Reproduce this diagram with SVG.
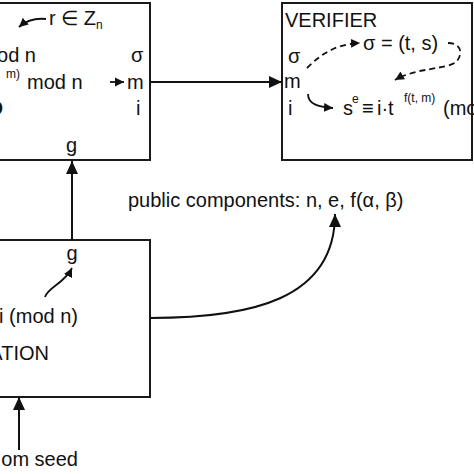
<svg xmlns="http://www.w3.org/2000/svg" width="474" height="474" viewBox="0 0 474 474">
<defs>
<style>
.box{fill:#fff;stroke:#1a1a1a;stroke-width:2}
.t{font-family:"Liberation Sans",Arial,sans-serif;font-size:20px;fill:#111}
.sup{font-size:12px}
.ln{fill:none;stroke:#111;stroke-width:2}
.thin{fill:none;stroke:#111;stroke-width:1.8}
.dash{fill:none;stroke:#111;stroke-width:1.8;stroke-dasharray:6 4}
</style>
<marker id="big" markerUnits="userSpaceOnUse" markerWidth="14" markerHeight="12" refX="13" refY="6" orient="auto"><path d="M0,0 L13,6 L0,12 Z" fill="#111"/></marker>
<marker id="sm" markerUnits="userSpaceOnUse" markerWidth="10" markerHeight="10" refX="9" refY="5" orient="auto"><path d="M0,0.5 L9,5 L0,9.5 Z" fill="#111"/></marker>
</defs>
<g id="signer">
<rect class="box" x="-10" y="3" width="160" height="157"/>
<text class="t" x="49" y="25">r ∈ Z<tspan class="sup" dy="4">n</tspan></text>
<text class="t" x="36" y="62" text-anchor="end">od n</text>
<text class="t" x="131" y="62">σ</text>
<text class="t sup" x="20" y="78" text-anchor="end">m)</text>
<text class="t" x="27" y="89">mod n</text>
<text class="t" x="127" y="89">m</text>
<text class="t" x="136" y="115">i</text>
<text class="t" x="3" y="115" text-anchor="end" font-weight="bold">O</text>
<text class="t" x="71.5" y="152" text-anchor="middle">g</text>
</g>
<g id="verifier">
<rect class="box" x="282" y="3" width="190" height="157"/>
<text class="t" x="285" y="27" font-size="17">VERIFIER</text>
<text class="t" x="288" y="63">σ</text>
<text class="t" x="284" y="88">m</text>
<text class="t" x="288" y="115">i</text>
<text class="t" x="363" y="50">σ = (t, s)</text>
<text class="t" x="343" y="115">s</text>
<text class="t sup" x="352" y="103">e</text>
<text class="t" x="362" y="115">≡</text>
<text class="t" x="377" y="115" font-size="21">i·t</text>
<text class="t sup" x="404" y="102">f(t, m)</text>
<text class="t" x="443" y="115">(mod n)</text>
</g>
<g id="keygen">
<rect class="box" x="-10" y="240" width="160" height="157"/>
<text class="t" x="72" y="260" text-anchor="middle">g</text>
<text class="t" x="78" y="323" text-anchor="end">i (mod n)</text>
<text class="t" x="49" y="360" text-anchor="end" font-size="16.5">ATION</text>
</g>
<g id="labels">
<text class="t" x="128" y="207" font-size="21.4">public components: n, e, f(α, β)</text>
<text class="t" x="78" y="466" text-anchor="end">om seed</text>
</g>
<g id="connectors">
<line class="ln" x1="150" y1="82" x2="282" y2="82" marker-end="url(#big)"/>
<line class="ln" x1="72" y1="240" x2="72" y2="161" marker-end="url(#big)"/>
<line class="ln" x1="19" y1="450" x2="19" y2="397" marker-end="url(#big)"/>
<path class="ln" d="M150,318 C250,318 335,300 335,214" marker-end="url(#big)"/>
<line class="thin" x1="110" y1="82" x2="124" y2="82" marker-end="url(#sm)"/>
<path class="thin" d="M46,19 C36,18 27,20 19,27" marker-end="url(#sm)"/>
<path class="thin" d="M45,297 C48,287 64,284 72,268" marker-end="url(#sm)"/>
<path class="thin" d="M308,94 C308,104 318,107 333,108" marker-end="url(#sm)"/>
<path class="dash" d="M307,68 C320,55 335,44 360,43" marker-end="url(#sm)"/>
<path class="dash" d="M448,43 C462,43 463,55 456,62 C448,69 415,68 395,80" marker-end="url(#sm)"/>
</g>
</svg>
